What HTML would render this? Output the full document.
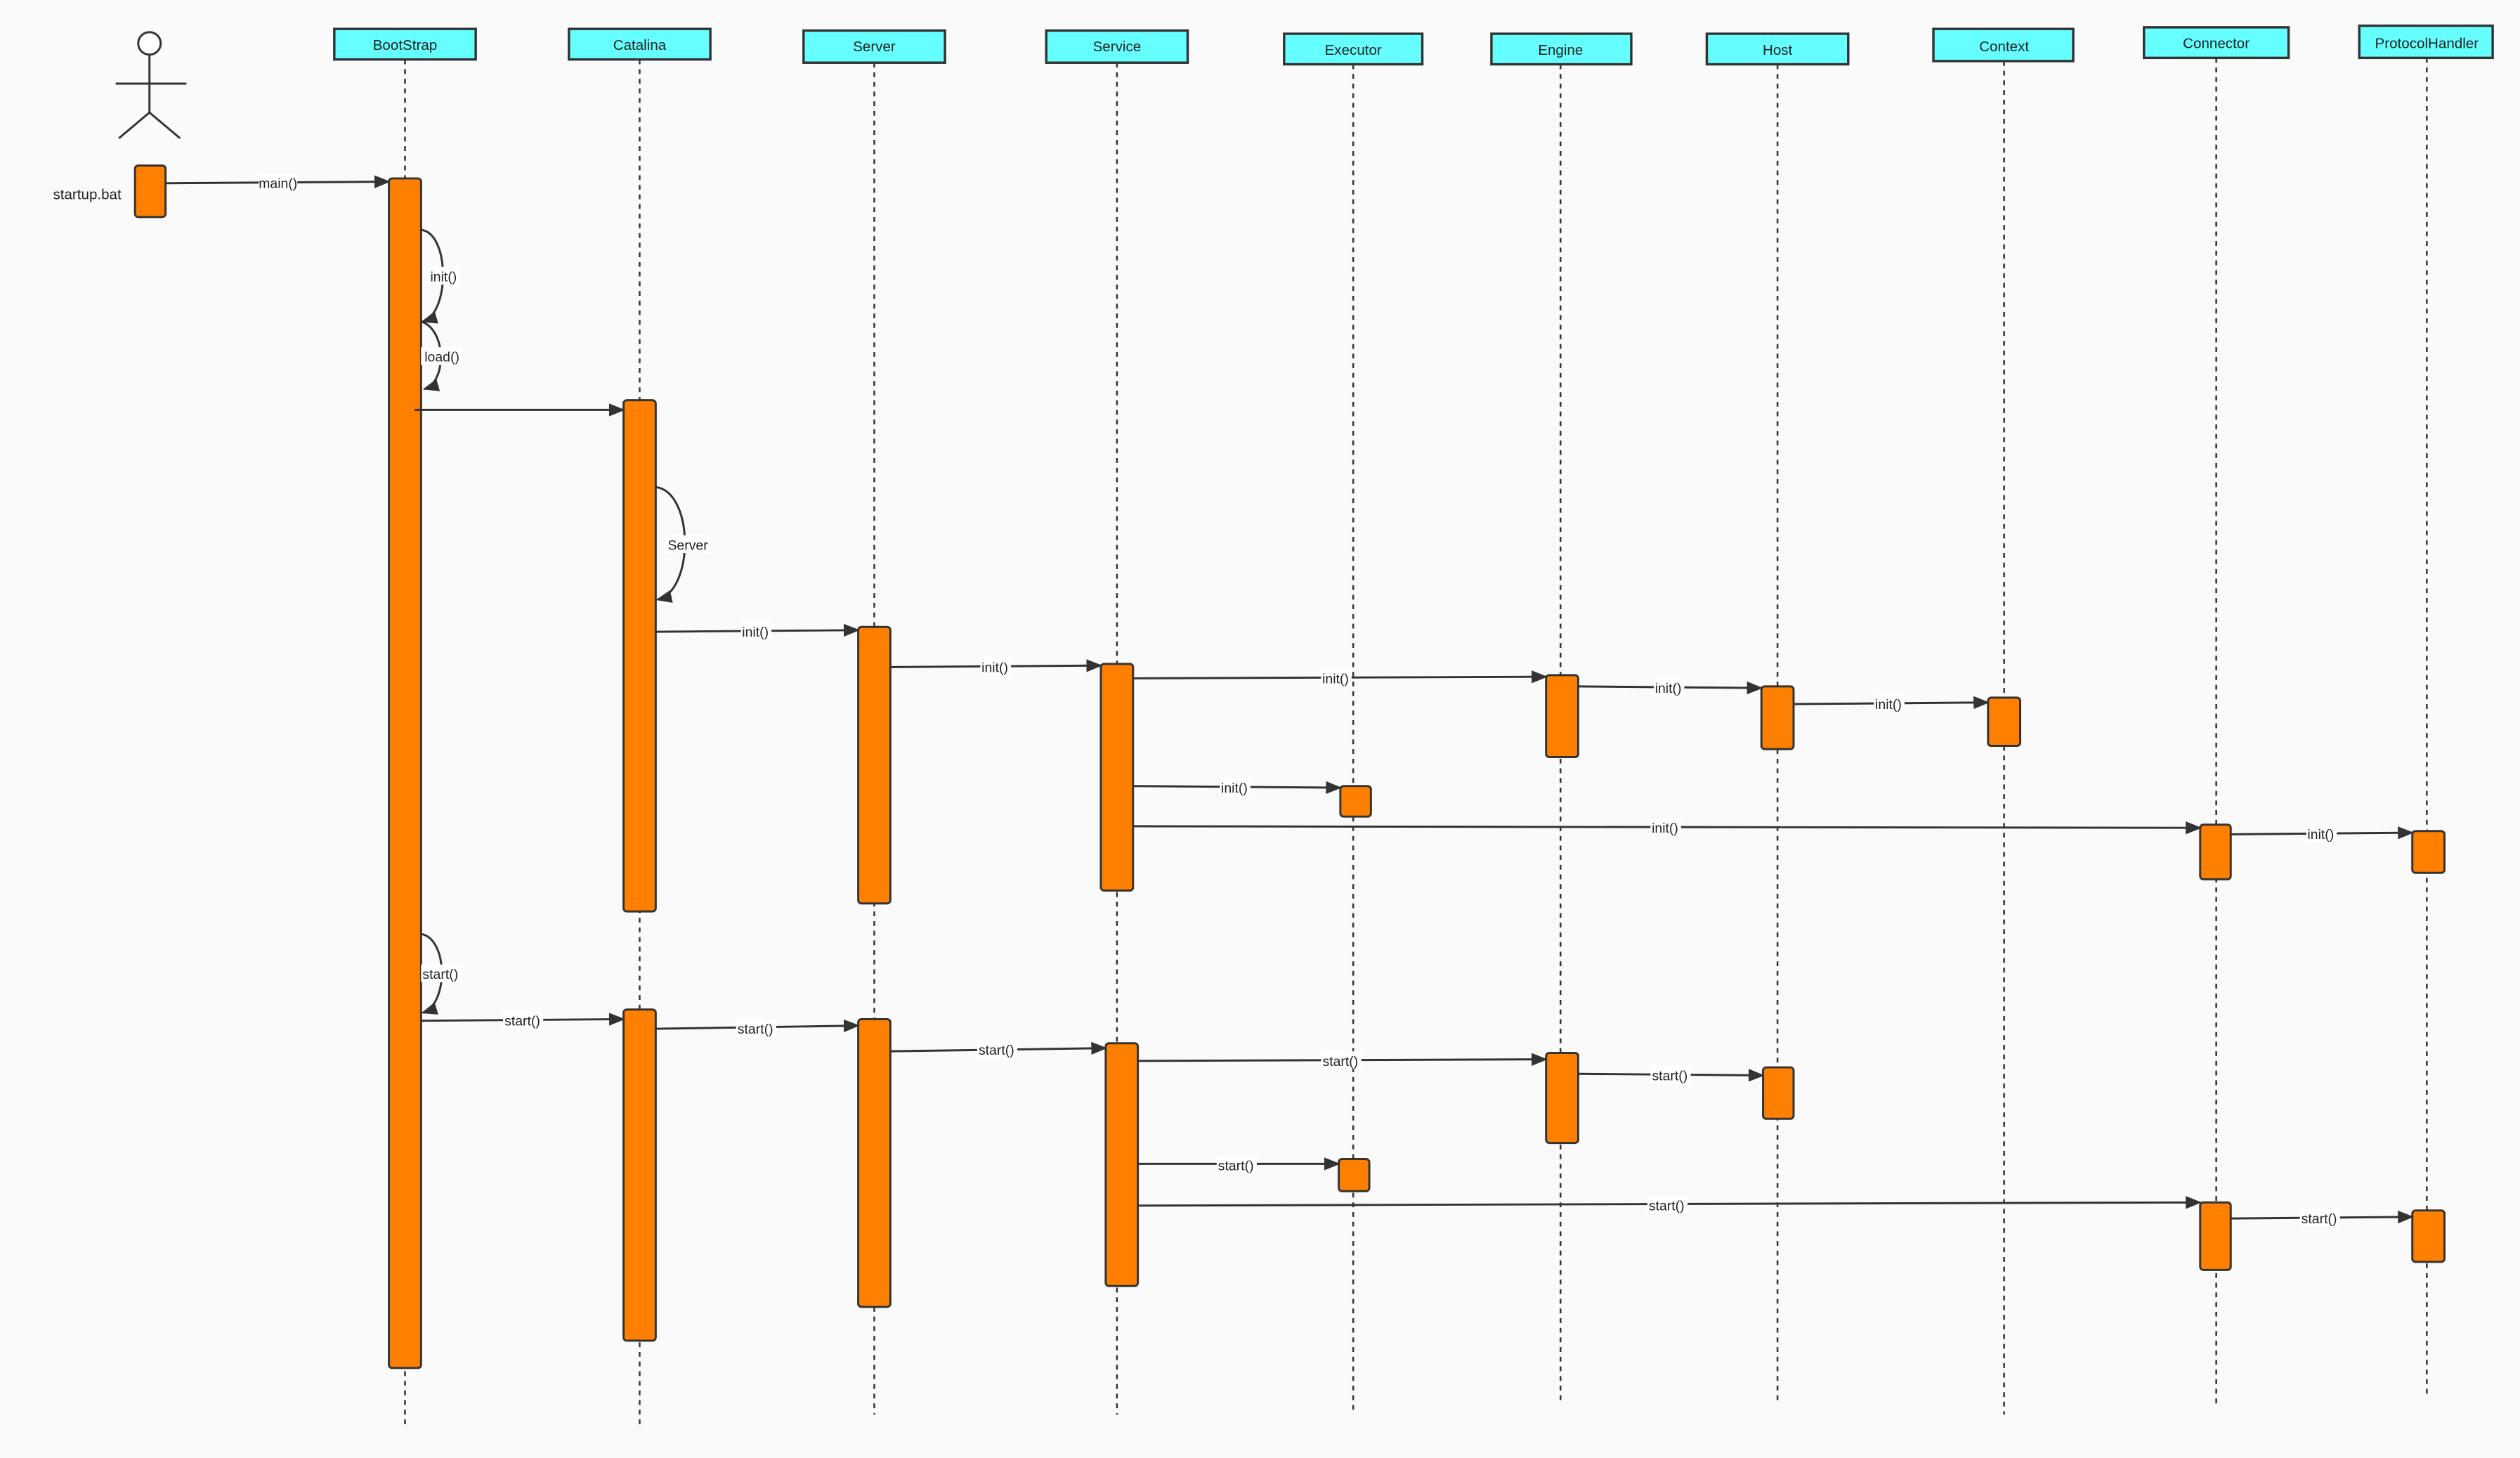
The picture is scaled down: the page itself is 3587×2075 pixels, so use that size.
<!DOCTYPE html>
<html><head><meta charset="utf-8"><style>
html,body{margin:0;padding:0;background:#fafafa;}
svg{display:block;}
text{font-family:"Liberation Sans",sans-serif;fill:#222;}
</style></head><body>
<svg width="3587" height="2075" viewBox="0 0 1568 907" preserveAspectRatio="none" xmlns="http://www.w3.org/2000/svg">
<defs>
<marker id="a" markerWidth="10" markerHeight="8" refX="9" refY="4" orient="auto" markerUnits="userSpaceOnUse">
<path d="M0,0 L10,4 L0,8 Z" fill="#333"/>
</marker>
</defs>
<rect width="1568" height="907" fill="#fafafa"/>
<g stroke="#333" stroke-width="1.1" stroke-dasharray="3,3">
<line x1="252" y1="37" x2="252" y2="888"/>
<line x1="398" y1="37" x2="398" y2="888"/>
<line x1="544" y1="39" x2="544" y2="880"/>
<line x1="695" y1="39" x2="695" y2="880"/>
<line x1="842" y1="40" x2="842" y2="877"/>
<line x1="971" y1="40" x2="971" y2="873"/>
<line x1="1106" y1="40" x2="1106" y2="872"/>
<line x1="1247" y1="38" x2="1247" y2="880"/>
<line x1="1379" y1="36" x2="1379" y2="876"/>
<line x1="1510" y1="36" x2="1510" y2="868"/>
</g>
<g fill="#66ffff" stroke="#333" stroke-width="1.5">
<rect x="208" y="18" width="88" height="19"/>
<rect x="354" y="18" width="88" height="19"/>
<rect x="500" y="19" width="88" height="20"/>
<rect x="651" y="19" width="88" height="20"/>
<rect x="799" y="21" width="86" height="19"/>
<rect x="928" y="21" width="87" height="19"/>
<rect x="1062" y="21" width="88" height="19"/>
<rect x="1203" y="18" width="87" height="20"/>
<rect x="1334" y="17" width="90" height="19"/>
<rect x="1468" y="16" width="83" height="20"/>
</g>
<g font-size="9" text-anchor="middle">
<text x="252" y="31">BootStrap</text>
<text x="398" y="31">Catalina</text>
<text x="544" y="32">Server</text>
<text x="695" y="32">Service</text>
<text x="842" y="34">Executor</text>
<text x="971" y="34">Engine</text>
<text x="1106" y="34">Host</text>
<text x="1247" y="32">Context</text>
<text x="1379" y="30">Connector</text>
<text x="1510" y="30">ProtocolHandler</text>
</g>
<g stroke="#333" stroke-width="1.3" fill="none">
<circle cx="93" cy="27" r="7" fill="#fff"/>
<line x1="93" y1="34" x2="93" y2="70"/>
<line x1="72" y1="52" x2="116" y2="52"/>
<line x1="93" y1="70" x2="74" y2="86"/>
<line x1="93" y1="70" x2="112" y2="86"/>
</g>
<text x="33" y="124" font-size="9">startup.bat</text>
<g fill="#ff8000" stroke="#333" stroke-width="1.3">
<rect x="84" y="103" width="19" height="32" rx="2"/>
<rect x="242" y="111" width="20" height="740" rx="2"/>
<rect x="388" y="249" width="20" height="318" rx="2"/>
<rect x="388" y="628" width="20" height="206" rx="2"/>
<rect x="534" y="390" width="20" height="172" rx="2"/>
<rect x="534" y="634" width="20" height="179" rx="2"/>
<rect x="685" y="413" width="20" height="141" rx="2"/>
<rect x="688" y="649" width="20" height="151" rx="2"/>
<rect x="962" y="420" width="20" height="51" rx="2"/>
<rect x="962" y="655" width="20" height="56" rx="2"/>
<rect x="1096" y="427" width="20" height="39" rx="2"/>
<rect x="1097" y="664" width="19" height="32" rx="2"/>
<rect x="1237" y="434" width="20" height="30" rx="2"/>
<rect x="834" y="489" width="19" height="19" rx="2"/>
<rect x="833" y="721" width="19" height="20" rx="2"/>
<rect x="1369" y="513" width="19" height="34" rx="2"/>
<rect x="1369" y="748" width="19" height="42" rx="2"/>
<rect x="1501" y="517" width="20" height="26" rx="2"/>
<rect x="1501" y="753" width="20" height="32" rx="2"/>
</g>
<g stroke="#333" stroke-width="1.3" fill="none" marker-end="url(#a)">
<line x1="103" y1="114" x2="242" y2="113"/>
<path d="M262,143 C280,145 280,195 263,200"/>
<path d="M262,200 C278,205 278,238 264,242"/>
<line x1="258" y1="255" x2="388" y2="255"/>
<path d="M408,303 C432,306 432,368 409,373"/>
<line x1="408" y1="393" x2="534" y2="392"/>
<line x1="554" y1="415" x2="685" y2="414"/>
<line x1="705" y1="422" x2="962" y2="421"/>
<line x1="982" y1="427" x2="1096" y2="428"/>
<line x1="1116" y1="438" x2="1237" y2="437"/>
<line x1="705" y1="489" x2="834" y2="490"/>
<line x1="705" y1="514" x2="1369" y2="515"/>
<line x1="1388" y1="519" x2="1501" y2="518"/>
<path d="M262,581 C279,584 279,625 263,630"/>
<line x1="262" y1="635" x2="388" y2="634"/>
<line x1="408" y1="640" x2="534" y2="638"/>
<line x1="554" y1="654" x2="688" y2="652"/>
<line x1="708" y1="660" x2="962" y2="659"/>
<line x1="982" y1="668" x2="1097" y2="669"/>
<line x1="708" y1="724" x2="833" y2="724"/>
<line x1="708" y1="750" x2="1369" y2="748"/>
<line x1="1388" y1="758" x2="1501" y2="757"/>
</g>
<g font-size="8.5" text-anchor="middle">
<g fill="#fff">
<rect x="161" y="108" width="24" height="11"/>
<rect x="266" y="166" width="20" height="11"/>
<rect x="262" y="216" width="26" height="11"/>
<rect x="414" y="333" width="28" height="11"/>
<rect x="461" y="387" width="19" height="11"/>
<rect x="610" y="409" width="19" height="11"/>
<rect x="822" y="416" width="19" height="11"/>
<rect x="1029" y="422" width="19" height="11"/>
<rect x="1166" y="432" width="19" height="11"/>
<rect x="759" y="484" width="19" height="11"/>
<rect x="1027" y="509" width="19" height="11"/>
<rect x="1435" y="513" width="19" height="11"/>
<rect x="262" y="600" width="25" height="11"/>
<rect x="313" y="629" width="25" height="11"/>
<rect x="458" y="634" width="25" height="11"/>
<rect x="608" y="647" width="25" height="11"/>
<rect x="822" y="654" width="25" height="11"/>
<rect x="1027" y="663" width="25" height="11"/>
<rect x="757" y="719" width="25" height="11"/>
<rect x="1025" y="744" width="25" height="11"/>
<rect x="1431" y="752" width="25" height="11"/>
</g>
<text x="173" y="117">main()</text>
<text x="276" y="175">init()</text>
<text x="275" y="225">load()</text>
<text x="428" y="342">Server</text>
<text x="470" y="396">init()</text>
<text x="619" y="418">init()</text>
<text x="831" y="425">init()</text>
<text x="1038" y="431">init()</text>
<text x="1175" y="441">init()</text>
<text x="768" y="493">init()</text>
<text x="1036" y="518">init()</text>
<text x="1444" y="522">init()</text>
<text x="274" y="609">start()</text>
<text x="325" y="638">start()</text>
<text x="470" y="643">start()</text>
<text x="620" y="656">start()</text>
<text x="834" y="663">start()</text>
<text x="1039" y="672">start()</text>
<text x="769" y="728">start()</text>
<text x="1037" y="753">start()</text>
<text x="1443" y="761">start()</text>
</g>
</svg>
</body></html>
